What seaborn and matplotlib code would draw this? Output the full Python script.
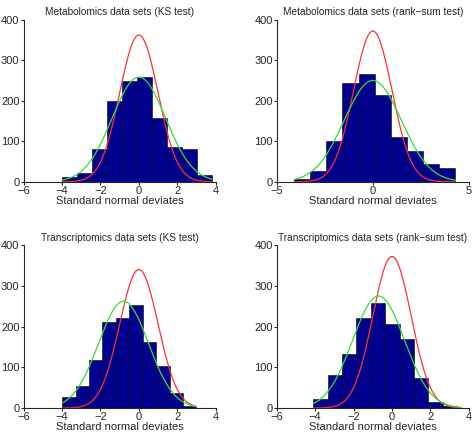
import numpy as np
import pandas as pd
import matplotlib
matplotlib.use('Agg')
import matplotlib.pyplot as plt
import seaborn as sns

sns.set_style('ticks')
plt.rcParams['font.family'] = ['Liberation Sans', 'DejaVu Sans']

titles = ['Metabolomics data sets (KS test)', 'Metabolomics data sets (rank\u2212sum test)',
          'Transcriptomics data sets (KS test)', 'Transcriptomics data sets (rank\u2212sum test)']

# histogram bin range and counts (10 bins each)
bin_lo = [-4.0, -4.1, -4.0, -4.1]
bin_hi = [3.8, 4.3, 3.0, 3.4]
counts = [
    [12, 22, 80, 200, 248, 258, 157, 85, 80, 18],
    [8, 27, 100, 243, 265, 213, 111, 75, 44, 34],
    [28, 53, 117, 210, 222, 253, 163, 104, 38, 4],
    [22, 80, 133, 222, 258, 207, 170, 75, 16, 4],
]
# red: standard normal, green: fitted normal
red_peak = [362, 372, 340, 372]
green_mean = [0.0, 0.0, -0.8, -0.7]
green_sd = [1.4, 1.49, 1.3, 1.35]
green_peak = [258, 250, 262, 275]
curve_lo = [-4.0, -4.1, -4.0, -4.1]
curve_hi = [3.8, 4.3, 3.0, 3.6]
xlims = [(-6, 4), (-5, 5), (-6, 4), (-6, 4)]
xticks = [[-6, -4, -2, 0, 2, 4], [-5, 0, 5], [-6, -4, -2, 0, 2, 4], [-6, -4, -2, 0, 2, 4]]

fig = plt.figure(figsize=(4.74, 4.36), dpi=100)
boxes = [[0.05, 0.583, 0.405, 0.372], [0.584, 0.583, 0.405, 0.372],
         [0.05, 0.064, 0.405, 0.374], [0.584, 0.064, 0.405, 0.374]]

for i in range(4):
    ax = fig.add_axes(boxes[i])
    edges = np.linspace(bin_lo[i], bin_hi[i], 11)
    df = pd.DataFrame({'x': (edges[:-1] + edges[1:]) / 2, 'n': counts[i]})
    sns.histplot(data=df, x='x', weights='n', bins=10, binrange=(bin_lo[i], bin_hi[i]), ax=ax,
                 color='#00008f', edgecolor='black', linewidth=0.4, alpha=1)
    xs = np.linspace(curve_lo[i], curve_hi[i], 300)
    sns.lineplot(x=xs, y=red_peak[i] * np.exp(-xs**2 / 2), ax=ax, color='#ff3030', linewidth=0.9)
    sns.lineplot(x=xs, y=green_peak[i] * np.exp(-(xs - green_mean[i])**2 / (2 * green_sd[i]**2)),
                 ax=ax, color='#30e030', linewidth=0.9)
    ax.set_xlim(xlims[i])
    ax.set_ylim(0, 400)
    ax.set_xticks(xticks[i])
    ax.set_yticks([0, 100, 200, 300, 400])
    ax.set_ylabel('')
    ax.set_xlabel('Standard normal deviates', fontsize=8, labelpad=0)
    ax.set_title(titles[i], fontsize=7.3, pad=3)
    ax.tick_params(labelsize=8, length=2, pad=1)
    sns.despine(ax=ax)

fig.savefig('out.png', dpi=100)
